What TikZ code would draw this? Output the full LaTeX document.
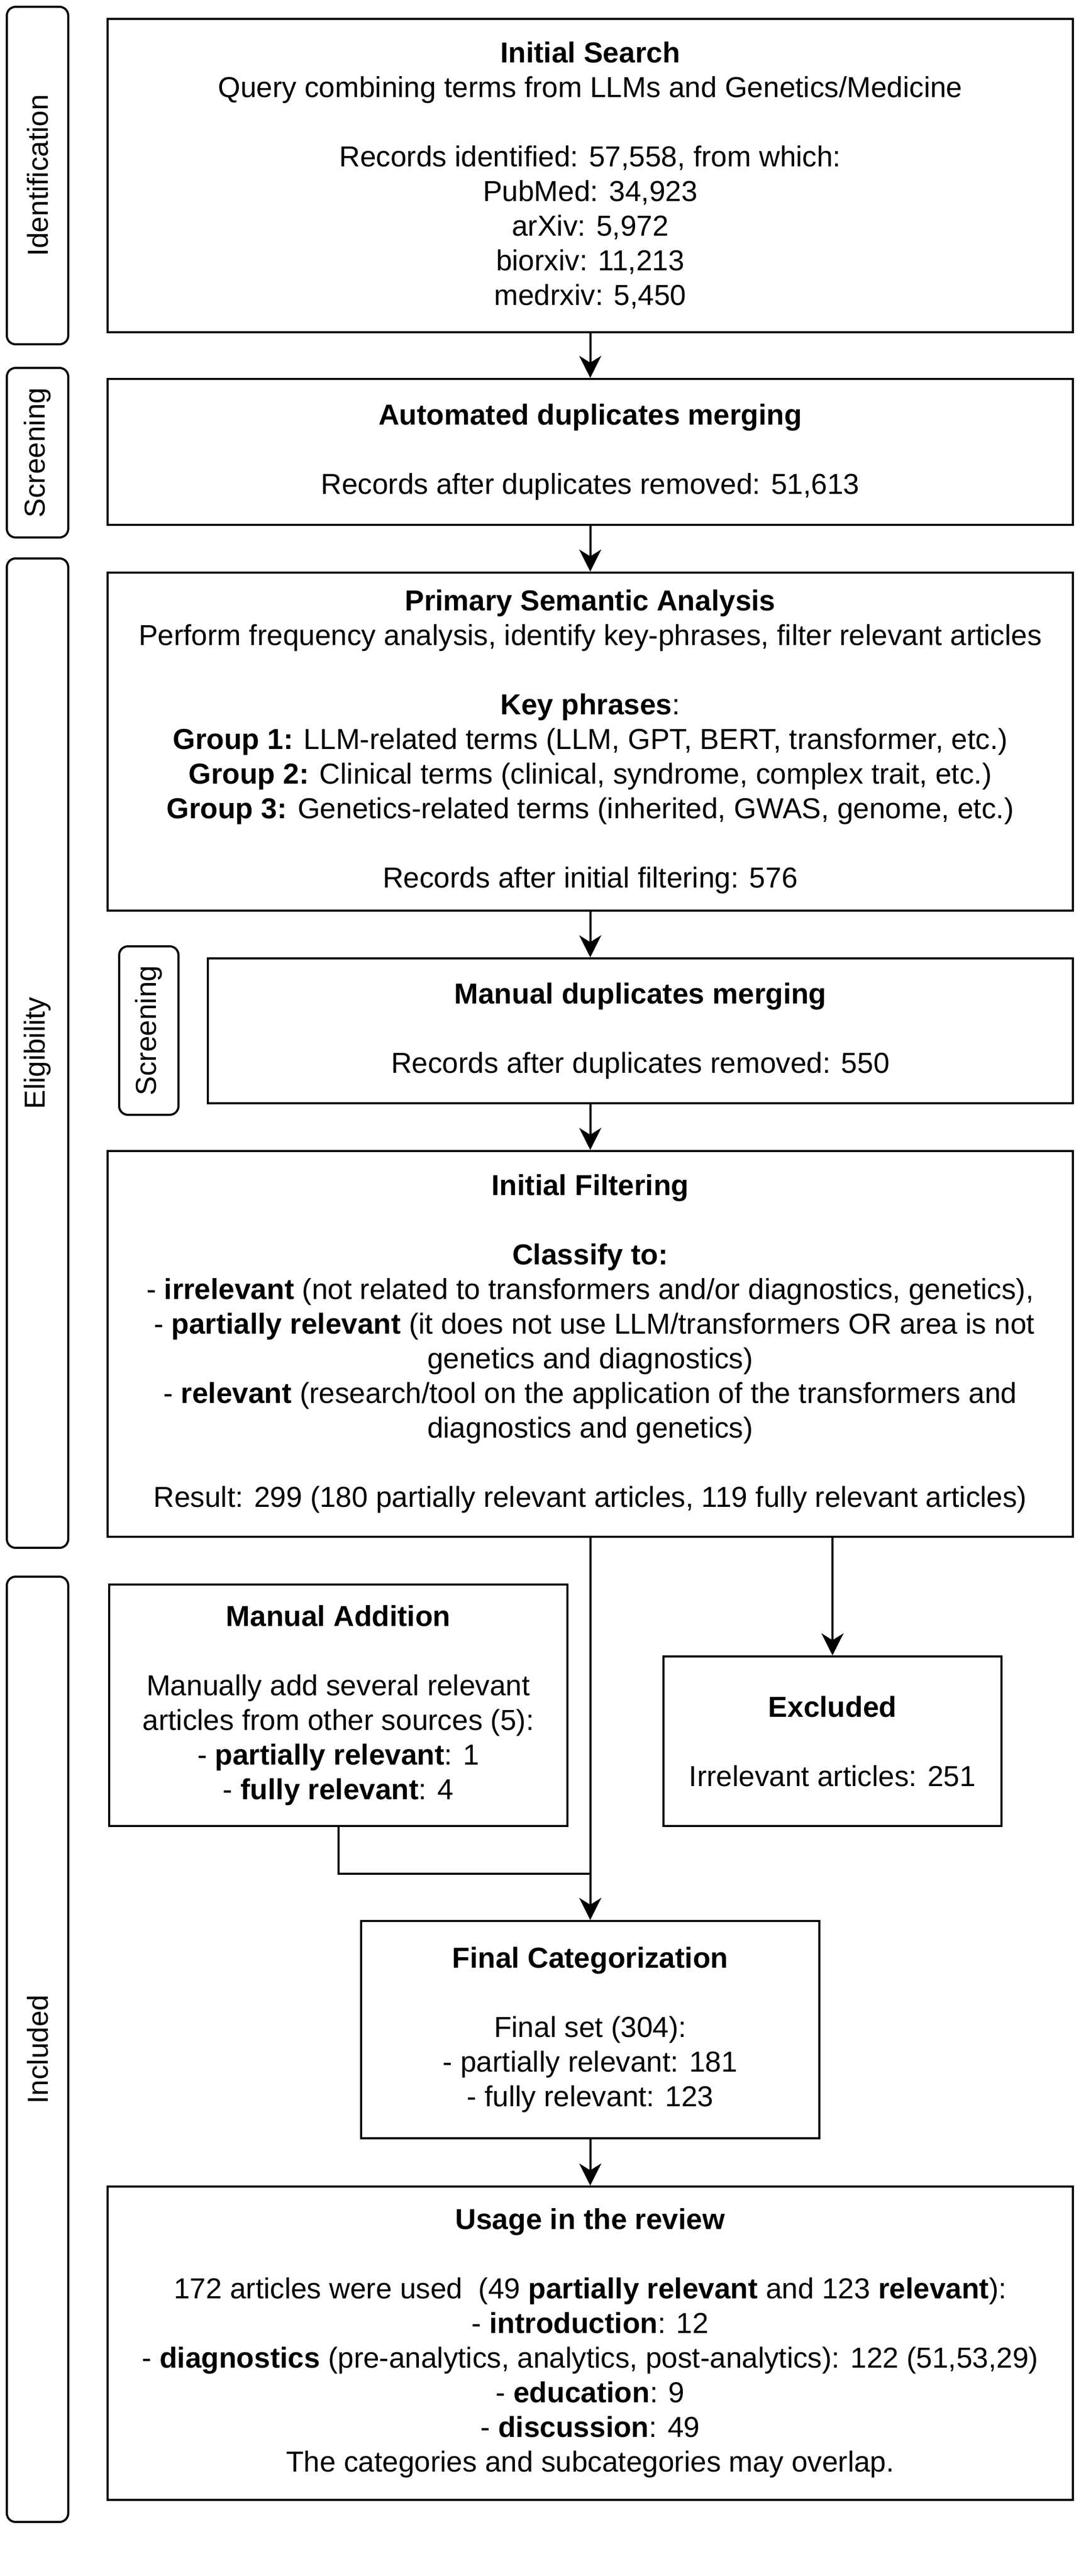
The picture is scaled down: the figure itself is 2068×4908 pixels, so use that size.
\documentclass[tikz,border=0pt]{standalone}
\usepackage{fontspec}
\setmainfont{Liberation Sans}
\usetikzlibrary{arrows.meta}
\newcommand{\bsk}{19.8pt}
\begin{document}
\begin{tikzpicture}[x=0.3pt,y=-0.3pt,
  every node/.style={font=\fontsize{16.5}{19.8}\selectfont, align=center, inner sep=0pt},
  box/.style 2 args={draw, line width=1.2pt, rectangle, minimum width=#1*0.3pt, minimum height=#2*0.3pt},
  side/.style 2 args={draw, line width=1.2pt, rectangle, rounded corners=5pt, rotate=90, minimum width=#2*0.3pt, minimum height=#1*0.3pt},
  conn/.style={line width=1.2pt},
  arr/.style={conn, -{Stealth[length=12.6pt, width=12.6pt, inset=3.9pt]}}
]
\useasboundingbox (0,0) rectangle (2068,4908);

% phase labels
\node[side={117}{643}] (ident) at (71.5,334.5) {Identification};
\node[side={117}{323}] (scr1) at (71.5,862.5) {Screening};
\node[side={117}{1885}] (elig) at (71.5,2006.5) {Eligibility};
\node[side={113}{321}] (scr2) at (283.5,1963.5) {Screening};
\node[side={117}{1801}] (incl) at (71.5,3904.5) {Included};

% boxes
\node[box={1839}{597}] (search) at (1124.5,334.5) {\textbf{Initial Search}\\
Query combining terms from LLMs and Genetics/Medicine\\[\bsk]
Records identified: 57,558, from which:\\
PubMed: 34,923\\
arXiv: 5,972\\
biorxiv: 11,213\\
medrxiv: 5,450};

\node[box={1839}{278}] (auto) at (1124.5,861) {\textbf{Automated duplicates merging}\\[\bsk]
Records after duplicates removed: 51,613};

\node[box={1839}{644}] (primary) at (1124.5,1413) {\textbf{Primary Semantic Analysis}\\
Perform frequency analysis, identify key-phrases, filter relevant articles\\[\bsk]
\textbf{Key phrases}:\\
\textbf{Group 1:} LLM-related terms (LLM, GPT, BERT, transformer, etc.)\\
\textbf{Group 2:} Clinical terms (clinical, syndrome, complex trait, etc.)\\
\textbf{Group 3:} Genetics-related terms (inherited, GWAS, genome, etc.)\\[\bsk]
Records after initial filtering: 576};

\node[box={1648}{276}] (mandup) at (1220,1964) {\textbf{Manual duplicates merging}\\[\bsk]
Records after duplicates removed: 550};

\node[box={1839}{735}] (filter) at (1124.5,2560.5) {\textbf{Initial Filtering}\\[\bsk]
\textbf{Classify to:}\\
- \textbf{irrelevant} (not related to transformers and/or diagnostics, genetics),\\
\ - \textbf{partially relevant} (it does not use LLM/transformers OR area is not\\
genetics and diagnostics)\\
- \textbf{relevant} (research/tool on the application of the transformers and\\
diagnostics and genetics)\\[\bsk]
Result: 299 (180 partially relevant articles, 119 fully relevant articles)};

\node[box={873}{460}] (addition) at (644.5,3249) {\textbf{Manual Addition}\\[\bsk]
Manually add several relevant\\
articles from other sources (5):\\
- \textbf{partially relevant}: 1\\
- \textbf{fully relevant}: 4};

\node[box={644}{323}] (excluded) at (1586,3317.5) {\textbf{Excluded}\\[\bsk]
Irrelevant articles: 251};

\node[box={873}{414}] (final) at (1124.5,3867) {\textbf{Final Categorization}\\[\bsk]
Final set (304):\\
- partially relevant: 181\\
- fully relevant: 123};

\node[box={1839}{597}] (usage) at (1124.5,4464.5) {\textbf{Usage in the review}\\[\bsk]
172 articles were used\ \ (49 \textbf{partially relevant} and 123 \textbf{relevant}):\\
- \textbf{introduction}: 12\\
- \textbf{diagnostics} (pre-analytics, analytics, post-analytics): 122 (51,53,29)\\
- \textbf{education}: 9\\
- \textbf{discussion}: 49\\
The categories and subcategories may overlap.};

% connectors
\draw[arr] (search.south) -- (auto.north);
\draw[arr] (auto.south) -- (primary.north);
\draw[arr] (primary.south) -- (primary.south |- mandup.north);
\draw[arr] (filter.north |- mandup.south) -- (filter.north);
\draw[arr] (filter.south) -- (final.north);
\draw[arr] (excluded.north |- filter.south) -- (excluded.north);
\coordinate (join) at (1124.5,3570);
\draw[conn] (addition.south) |- (join);
\draw[arr] (final.south) -- (usage.north);
\end{tikzpicture}
\end{document}
